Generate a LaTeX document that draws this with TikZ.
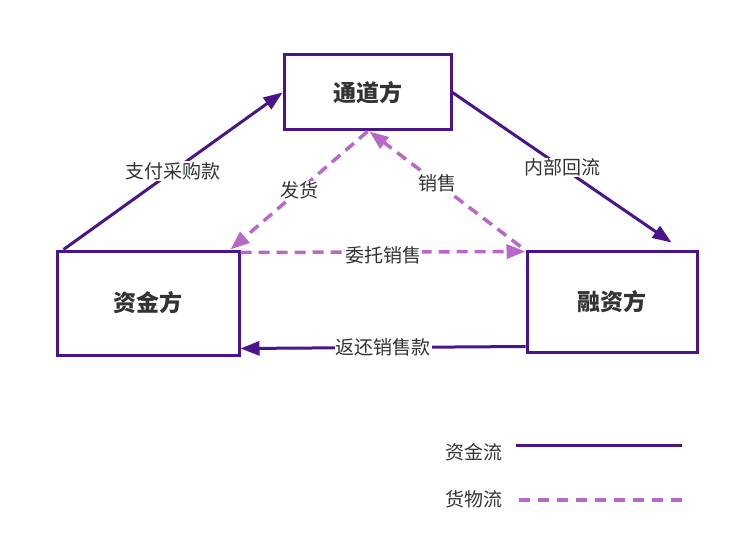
\documentclass[tikz,border=0pt]{standalone}
\usepackage{fontspec}
\newfontfamily\cjk{Noto Sans CJK SC}
\usetikzlibrary{arrows.meta}
\definecolor{money}{HTML}{4A148C}
\definecolor{goods}{HTML}{BA68C8}
\definecolor{txt}{HTML}{333333}
\begin{document}
\begin{tikzpicture}[x=1pt,y=-1pt,
  font=\cjk,
  box/.style={draw=money,line width=3pt,fill=white,text=txt,font=\cjk\bfseries\fontsize{23}{26}\selectfont},
  mflow/.style={draw=money,line width=3pt,-{Triangle[length=19pt,width=14pt]}},
  gflow/.style={draw=goods,line width=3.5pt,dash pattern=on 11pt off 7pt,-{Triangle[length=19pt,width=14pt]}},
  lbl/.style={fill=white,text=txt,inner sep=1pt,font=\cjk\fontsize{19}{22}\selectfont},
  leg/.style={text=txt,font=\cjk\fontsize{19}{22}\selectfont}]
\useasboundingbox (0,0) rectangle (754,537);
\node[box,minimum width=167pt,minimum height=75pt] (td) at (367.5,92.5) {通道方};
\node[box,minimum width=182pt,minimum height=104pt] (zj) at (148,303) {资金方};
\node[box,minimum width=170pt,minimum height=101pt] (rz) at (612,301.5) {融资方};

\draw[mflow] ([xshift=8pt]zj.north west) -- (td.west) node[lbl,midway] {支付采购款};
\draw[mflow] (td.east) -- ([xshift=-27pt,yshift=7pt]rz.north east) node[lbl,midway] {内部回流};
\draw[gflow] (td.south) -- ([xshift=-10pt]zj.north east) node[lbl,midway] {发货};
\draw[gflow] ([xshift=-5pt,yshift=3pt]rz.north west) -- ([xshift=2pt]td.south) node[lbl,pos=0.55] {销售};
\draw[gflow] ([yshift=-3pt]zj.north east) -- ([yshift=-2pt]rz.north west) node[lbl,midway,yshift=-3pt] {委托销售};
\draw[mflow] ([yshift=7pt]rz.south west) -- ([yshift=8pt]zj.south east) node[lbl,midway] {返还销售款};

\node[leg] (l1) at (474,452) {资金流};
\coordinate (l1a) at (516,445);
\coordinate (l1b) at (682,445);
\draw[money,line width=3pt] (l1a) -- (l1b);
\node[leg] (l2) at (474,499) {货物流};
\coordinate (l2a) at (519,500);
\coordinate (l2b) at (682,500);
\draw[goods,line width=3.5pt,dash pattern=on 11pt off 8pt] (l2a) -- (l2b);
\end{tikzpicture}
\end{document}
